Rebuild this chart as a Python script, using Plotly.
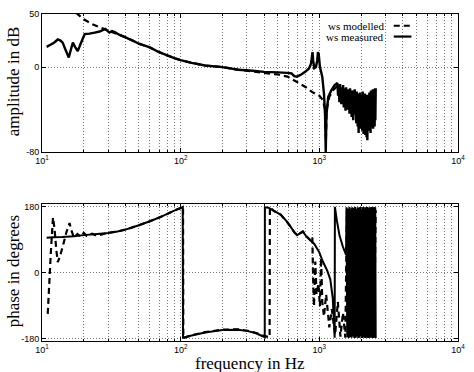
import plotly.graph_objects as go

# ---------------- data ----------------
# amplitude, measured
amp_meas_f = [10.8, 11.5, 12.2, 13.0, 13.6, 14.1, 14.8, 15.6, 16.2, 16.7, 17.3, 18.1, 19.0, 20.3,
              22, 24, 26, 28.6, 30.6, 32, 33.5, 36, 40, 45, 50, 60, 70, 80, 90, 100, 120, 150,
              200, 260, 330, 400, 500, 590, 630, 660, 690, 740, 790, 840, 870, 885, 893, 903,
              920, 945, 965, 978, 990, 1010, 1050, 1080, 1100, 1112, 1125, 1160, 1220, 1290,
              1350, 1365, 1380, 1395, 1410, 1425, 1440, 1455, 1470, 1485,
              1500, 1515, 1530, 1545, 1560, 1575, 1590, 1605, 1620, 1635,
              1650, 1665, 1680, 1695, 1710, 1725, 1740, 1755, 1770, 1785,
              1800, 1815, 1830, 1845, 1860, 1875, 1890, 1905, 1920, 1935,
              1950, 1965, 1980, 1995, 2010, 2025, 2040, 2055, 2070, 2085,
              2100, 2115, 2130, 2145, 2160, 2175, 2190, 2205, 2220, 2235,
              2250, 2265, 2280, 2295, 2310, 2325, 2340, 2355, 2370, 2385,
              2400, 2415, 2430, 2445, 2460, 2475, 2490, 2505, 2520, 2535,
              2550]
amp_meas = [19, 21, 23, 26, 25, 23, 16, 9, 17, 23, 19, 15, 22, 31,
            31.5, 32.5, 33.5, 36, 32.5, 34, 33, 30.5, 28, 25, 22, 18.5, 14, 11, 8.5, 6.5, 4, 1.5,
            0, -2.5, -3.5, -4.5, -5, -5.5, -6, -8.5, -9, -7, -4.5, -1.5, 3, 10, 14, 6,
            -1, 0, 6, 14, 12, 0, -9, -25, -45, -80, -45, -28, -22, -17,
            -15, -27, -18, -33, -16, -24, -35, -19, -30, -17,
            -38, -20, -28, -41, -19, -33, -22, -40, -21, -29,
            -44, -20, -36, -23, -47, -22, -31, -50, -24, -38,
            -21, -45, -27, -53, -23, -37, -56, -25, -62, -28,
            -41, -24, -58, -26, -48, -31, -60, -23, -44, -63,
            -27, -51, -25, -64, -30, -47, -66, -26, -69, -33,
            -55, -28, -60, -24, -49, -29, -62, -22, -45, -57,
            -25, -52, -21, -58, -27, -46, -24, -56, -20, -50,
            -20]

# amplitude, modelled
amp_mod_f = [11, 13, 15, 17, 18, 20, 23, 26, 28.6, 31, 35, 40, 45, 50, 60, 70, 80, 90, 100,
             120, 150, 200, 260, 330, 400, 500, 590, 690, 800, 900, 1000, 1060, 1100, 1115,
             1130, 1180, 1250, 1345, 1400, 1450, 1500, 1560, 1620, 1680, 1740, 1800, 1870,
             1940, 2000, 2080, 2150, 2220, 2300, 2380, 2450, 2520, 2550]
amp_mod = [90, 76, 63, 54, 50, 45, 40.5, 37.5, 35.5, 33.5, 31, 28, 25, 22, 18.5, 14, 11, 8.5, 6.5,
           4, 1.5, 0, -2.5, -4, -5.5, -7, -9, -14, -19, -24, -27, -31, -40, -70,
           -40, -28, -22, -18, -28, -22, -35, -25, -40, -28, -45, -30, -50,
           -33, -55, -38, -60, -40, -52, -35, -48, -28, -25]

# phase, measured
ph_meas_f = [10.8, 12, 14, 17, 20, 25, 30, 35, 40, 50, 60, 70, 80, 90, 100, 103.5, 104,
             120, 150, 200, 260, 305, 350, 390, 404, 405, 430, 470, 526, 580, 620, 660, 690,
             720, 760, 800, 862, 920, 1000, 1060, 1140, 1200, 1250, 1290, 1295, 1340, 1400,
             1480, 1560,
             1570, 1590, 1610, 1630, 1650, 1670, 1690, 1710, 1730, 1750, 1770, 1790, 1810,
             1830, 1850, 1870, 1890, 1910, 1930, 1950, 1970, 1990, 2010, 2030, 2050, 2070,
             2090, 2110, 2130, 2150, 2170, 2190, 2210, 2230, 2250, 2270, 2290, 2310, 2330,
             2350, 2370, 2390, 2410, 2430, 2450, 2470, 2490, 2510, 2530, 2550]
ph_meas = [95, 96, 97, 99, 102, 105, 108, 112, 117, 129, 140, 150, 160, 169, 176, 179, -178,
           -172, -164, -157, -156, -160, -166, -174, -177, 178, 177, 168, 158, 140, 125, 110, 102,
           106, 112, 100, 88, 78, 55, 30, 5, -19, -70, -178, 179, 140, 100,
           70, 48,
           178, -177, 175, -179, 179, -176, 170, -178, 178, -172, 176, -179, 179,
           -178, 174, -175, 178, -179, 177, -178, 179, -174, 172, -179, 178, -177,
           179, -178, 175, -179, 178, -176, 179, -178, 173, -179, 178, -177, 176,
           -178, 179, -175, 178, -179, 177, -178, 179, -176, 178, -179]

# phase, modelled
ph_mod_f = [11, 11.6, 12.0, 12.3, 12.7, 13.0, 13.5, 14.2, 15.0, 15.8, 16.3, 17, 18, 19, 20, 21,
            23, 25, 27, 30, 35, 40, 50, 60, 70, 80, 90, 100, 104, 104.5, 120, 150, 200, 260,
            305, 350, 400, 438, 440, 470, 526, 580, 620, 660, 690, 720, 760, 800, 862, 890,
            905, 915, 935, 955, 985, 1010, 1030, 1050, 1080, 1120, 1180, 1230, 1300, 1360,
            1420, 1480, 1540, 1580, 1640, 1700, 1760, 1820, 1880, 1940, 2000, 2060, 2120,
            2180, 2240, 2300, 2360, 2420, 2480, 2550]
ph_mod = [-113, 60, 150, 120, 60, 28, 45, 75, 110, 135, 115, 95, 105, 98, 108, 100,
          106, 100, 104, 108, 112, 117, 129, 140, 150, 160, 169, 176, 179, -179, -171, -163, -156, -155,
          -159, -165, -173, -177, 178, 168, 158, 140, 125, 110, 102, 106, 112, 100, 88, 97,
          -40, -92, 30, -60, -30, -92, 40, -80, -120, -60, -150, -100, -170, -80,
          -175, -110, -178, 170, -170, 175, -175, 160, -178, 170, -170, 178, -175,
          172, -178, 175, -172, 178, -176, 170]

x_tickvals = [10, 100, 1000, 10000]
x_ticktext = ["10<sup>1</sup>", "10<sup>2</sup>", "10<sup>3</sup>", "10<sup>4</sup>"]
x_minor = [20, 30, 40, 50, 60, 70, 80, 90, 200, 300, 400, 500, 600, 700, 800, 900,
           2000, 3000, 4000, 5000, 6000, 7000, 8000, 9000]
amp_ticks = [-80, 0, 50]
amp_ticktext = ["-80", "0", "50"]
ph_ticks = [-180, 0, 180]
ph_ticktext = ["-180", "0", "180"]

# ---------------- figure ----------------
BLACK = "#000000"
dash_style = "6px,4px"
GRIDC = "#7a7a7a"
GRIDDASH = "1px,2px"

fig = go.Figure()
fig.add_trace(go.Scatter(x=amp_mod_f, y=amp_mod, mode="lines", xaxis="x", yaxis="y",
                         line=dict(color=BLACK, width=2.2, dash=dash_style, simplify=False),
                         showlegend=False))
fig.add_trace(go.Scatter(x=amp_meas_f, y=amp_meas, mode="lines", xaxis="x", yaxis="y",
                         line=dict(color=BLACK, width=2.4, simplify=False), showlegend=False))
fig.add_trace(go.Scatter(x=ph_mod_f, y=ph_mod, mode="lines", xaxis="x2", yaxis="y2",
                         line=dict(color=BLACK, width=2.2, dash=dash_style, simplify=False),
                         showlegend=False))
fig.add_trace(go.Scatter(x=ph_meas_f, y=ph_meas, mode="lines", xaxis="x2", yaxis="y2",
                         line=dict(color=BLACK, width=2.0, simplify=False), showlegend=False))

tickfont = dict(family="Liberation Sans, Arial, sans-serif", size=9, color=BLACK)
grid = dict(showgrid=True, gridcolor=GRIDC, gridwidth=1, griddash=GRIDDASH)

def xaxis_cfg(anchor):
    return dict(type="log", range=[1, 4], anchor=anchor, tickvals=x_tickvals, ticktext=x_ticktext,
                ticks="inside", ticklen=4, tickcolor=BLACK, showline=True, linecolor=BLACK,
                linewidth=1, mirror="ticks", tickfont=tickfont, zeroline=False,
                minor=dict(tickvals=x_minor, ticks="inside", ticklen=2, tickcolor=BLACK,
                           showgrid=True, gridcolor=GRIDC, gridwidth=1, griddash=GRIDDASH),
                **grid)

def yaxis_cfg(anchor, domain, rng, vals, text):
    return dict(domain=domain, range=rng, anchor=anchor, tickvals=vals, ticktext=text,
                ticks="inside", ticklen=4, tickcolor=BLACK, showline=True, linecolor=BLACK,
                linewidth=1, mirror="ticks", tickfont=tickfont, zeroline=False, **grid)

titlefont = dict(family="Liberation Serif, Times New Roman, serif", size=17, color=BLACK)
legfont = dict(family="Liberation Serif, Times New Roman, serif", size=11, color=BLACK)

fig.update_layout(
    width=474, height=372,
    margin=dict(l=42, r=11, t=9, b=31),
    paper_bgcolor="white", plot_bgcolor="white",
    xaxis=xaxis_cfg("y"),
    yaxis=yaxis_cfg("x", [0.578, 1.0], [-80, 50], amp_ticks, amp_ticktext),
    xaxis2=xaxis_cfg("y2"),
    yaxis2=yaxis_cfg("x2", [0.0, 0.419], [-187, 187], ph_ticks, ph_ticktext),
    showlegend=False,
    annotations=[
        dict(text="amplitude in dB", xref="paper", yref="paper", x=-0.069, y=0.795,
             textangle=-90, showarrow=False, font=titlefont, xanchor="center", yanchor="middle"),
        dict(text="phase in degrees", xref="paper", yref="paper", x=-0.069, y=0.214,
             textangle=-90, showarrow=False, font=titlefont, xanchor="center", yanchor="middle"),
        dict(text="frequency in Hz", xref="paper", yref="paper", x=0.499, y=-0.069,
             showarrow=False, font=titlefont, xanchor="center", yanchor="middle"),
        dict(text="ws modelled", xref="paper", yref="paper", x=0.828, y=0.964,
             showarrow=False, font=legfont, xanchor="right", yanchor="middle"),
        dict(text="ws measured", xref="paper", yref="paper", x=0.828, y=0.931,
             showarrow=False, font=legfont, xanchor="right", yanchor="middle"),
    ],
    shapes=[
        dict(type="line", xref="paper", yref="paper", x0=0.8456, x1=0.888, y0=0.964, y1=0.964,
             line=dict(color=BLACK, width=2.2, dash=dash_style)),
        dict(type="line", xref="paper", yref="paper", x0=0.8456, x1=0.888, y0=0.931, y1=0.931,
             line=dict(color=BLACK, width=2.2)),
    ],
)

fig.write_html("out.html", config={"displayModeBar": False},
               post_script="document.body.style.margin='0';document.body.style.overflow='hidden';")
